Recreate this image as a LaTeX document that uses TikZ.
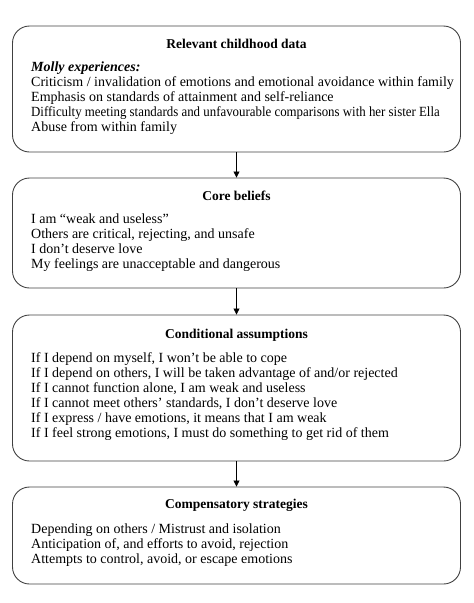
\documentclass[tikz,border=0pt]{standalone}
\usepackage{fontspec}
\setmainfont{Liberation Serif}
\usetikzlibrary{arrows.meta}
\begin{document}
\begin{tikzpicture}[x=1pt,y=1pt,
  box/.style={draw=black!75, line width=0.9pt, rounded corners=17pt, minimum width=448pt, inner sep=0pt},
  title/.style={anchor=base, inner sep=0pt, font=\fontsize{13.5}{15}\selectfont\bfseries},
  body/.style={anchor=base west, inner sep=0pt, font=\fontsize{14}{15}\selectfont},
  conn/.style={draw=black, line width=0.8pt, -{Triangle[length=6pt,width=6pt]}}]
\useasboundingbox (0,0) rectangle (474,-603);
\node[box, minimum height=126pt] (b1) at (236.5,-89) {};
\node[box, minimum height=110pt] (b2) at (236.5,-233) {};
\node[box, minimum height=146pt] (b3) at (236.5,-388) {};
\node[box, minimum height=97pt] (b4) at (236.5,-535.5) {};
\node[title] (t1) at (236.5,-48) {Relevant childhood data};
\node[body] (x1) at (31,-71) {\parbox[t]{440pt}{\raggedright\textbf{\textit{Molly experiences:}}\\
Criticism / invalidation of emotions and emotional avoidance within family\\
Emphasis on standards of attainment and self-reliance\\
\scalebox{0.92}[1]{Difficulty meeting standards and unfavourable comparisons with her sister Ella}\\
Abuse from within family}};
\node[title] (t2) at (236.5,-200) {Core beliefs};
\node[body] (x2) at (31,-223) {\parbox[t]{440pt}{\raggedright I am “weak and useless”\\
Others are critical, rejecting, and unsafe\\
I don’t deserve love\\
My feelings are unacceptable and dangerous}};
\node[title] (t3) at (236.5,-338) {Conditional assumptions};
\node[body] (x3) at (31,-362) {\parbox[t]{440pt}{\raggedright If I depend on myself, I won’t be able to cope\\
If I depend on others, I will be taken advantage of and/or rejected\\
If I cannot function alone, I am weak and useless\\
If I cannot meet others’ standards, I don’t deserve love\\
If I express / have emotions, it means that I am weak\\
If I feel strong emotions, I must do something to get rid of them}};
\node[title] (t4) at (236.5,-508) {Compensatory strategies};
\node[body] (x4) at (31,-533) {\parbox[t]{440pt}{\raggedright Depending on others / Mistrust and isolation\\
Anticipation of, and efforts to avoid, rejection\\
Attempts to control, avoid, or escape emotions}};
\draw[conn] (b1.south) -- (b2.north);
\draw[conn] (b2.south) -- (b3.north);
\draw[conn] (b3.south) -- (b4.north);
\end{tikzpicture}
\end{document}
